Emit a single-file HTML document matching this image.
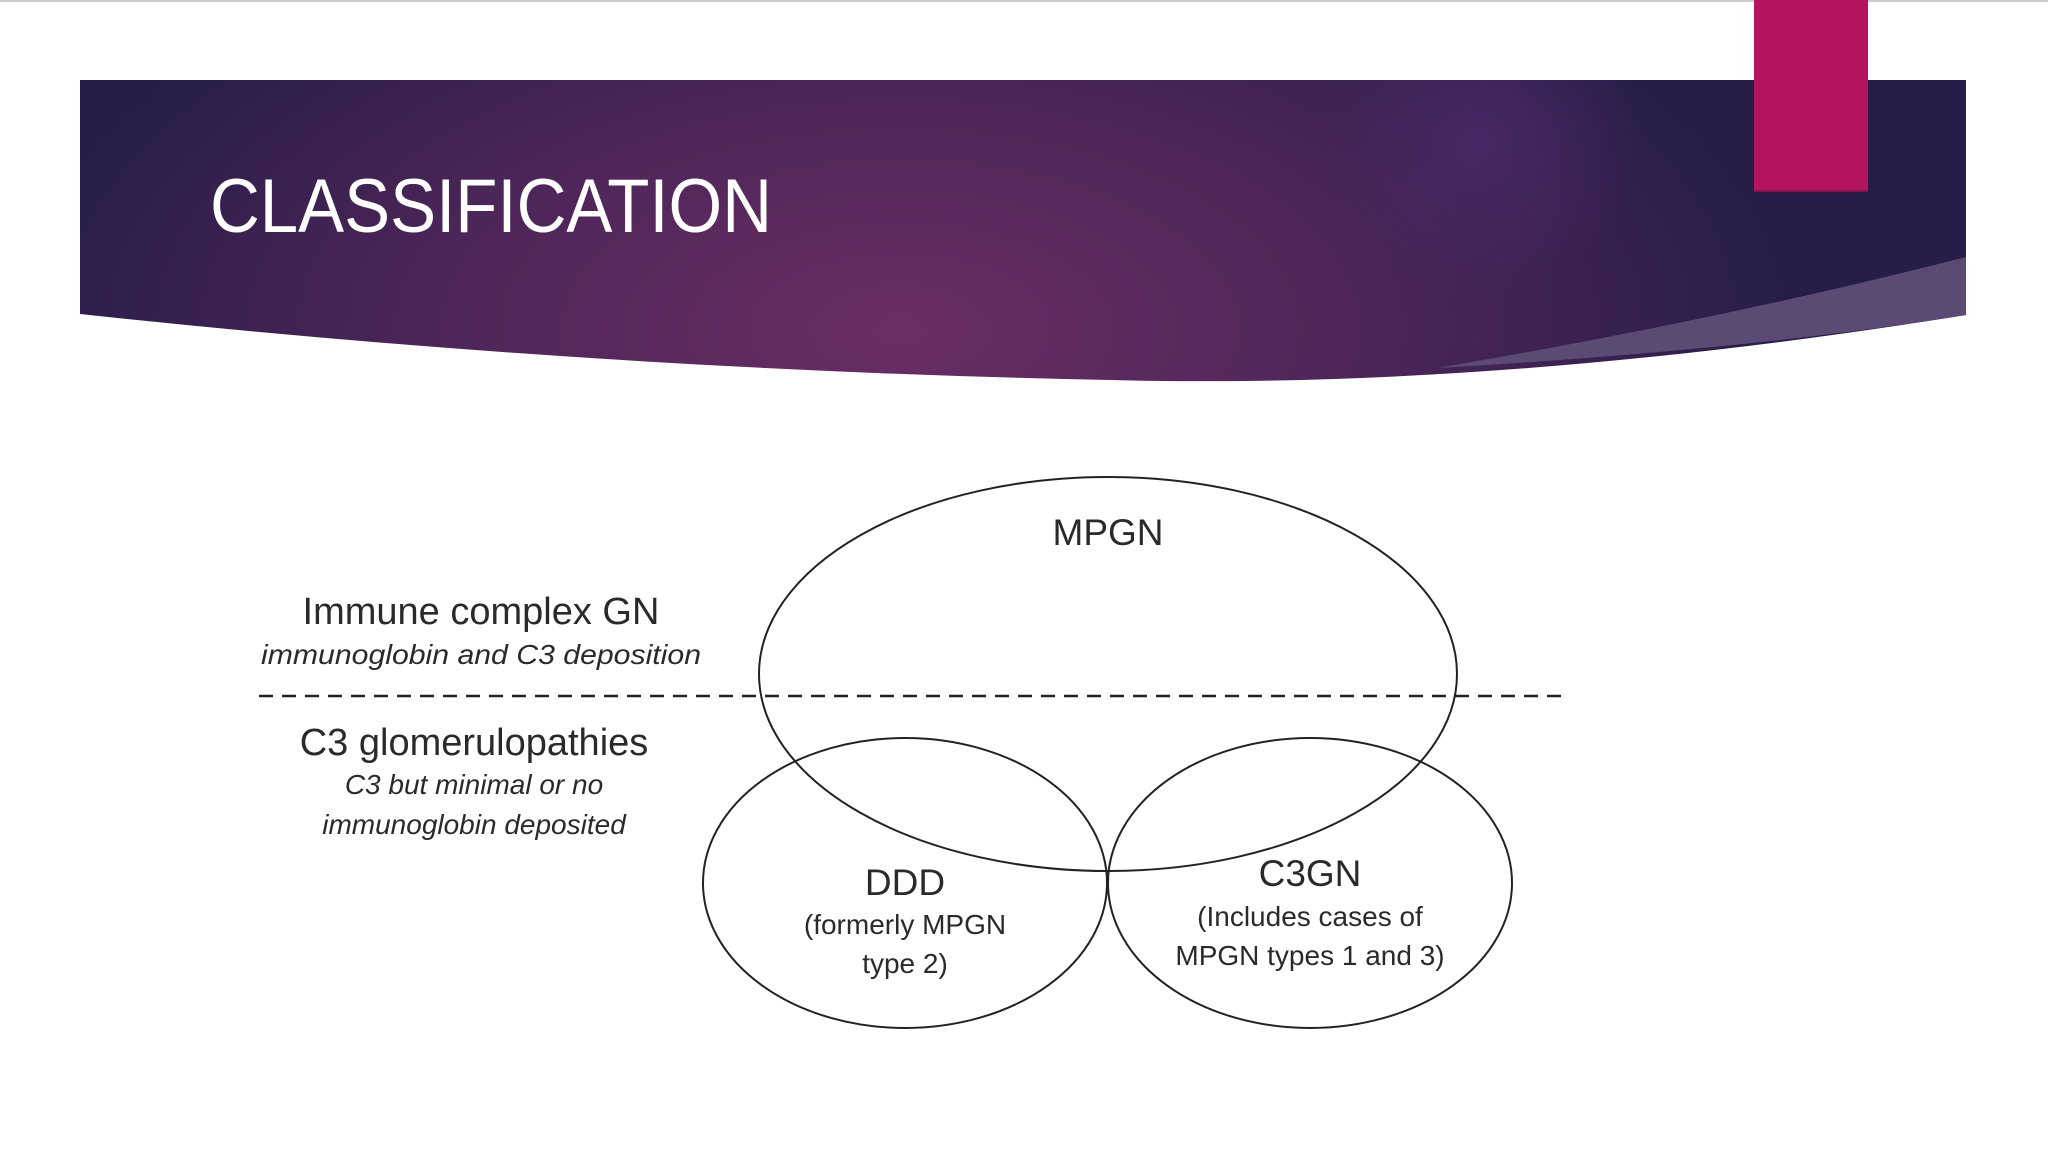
<!DOCTYPE html>
<html><head><meta charset="utf-8"><style>
html,body{margin:0;padding:0;background:#fff;}
svg{display:block;}
</style></head><body>
<svg width="2048" height="1152" viewBox="0 0 2048 1152" xmlns="http://www.w3.org/2000/svg">
<defs>
<radialGradient id="g1" cx="900" cy="330" r="900" gradientUnits="userSpaceOnUse" gradientTransform="translate(900 330) scale(1 0.5) translate(-900 -330)">
<stop offset="0" stop-color="#6b2d66"/>
<stop offset="0.5" stop-color="#4e2659"/>
<stop offset="1" stop-color="#271d48"/>
</radialGradient>
<radialGradient id="g2" cx="1480" cy="140" r="160" gradientUnits="userSpaceOnUse">
<stop offset="0" stop-color="#4a2a6a" stop-opacity="0.8"/>
<stop offset="1" stop-color="#4a2a6a" stop-opacity="0"/>
</radialGradient>
</defs>
<rect width="2048" height="1152" fill="#fff"/>
<line x1="0" y1="1" x2="2048" y2="1" stroke="#ccc" stroke-width="2"/>
<path d="M80 80 H1966 V315 Q1500 390 1110 380 Q600 370 80 314 Z" fill="url(#g1)"/>
<path d="M80 80 H1966 V315 Q1500 390 1110 380 Q600 370 80 314 Z" fill="url(#g2)"/>
<path d="M1966 257 Q1720 320 1437 368 Q1750 350 1966 315 Z" fill="#5a4a74"/>
<rect x="1754" y="0" width="114" height="192" fill="#b5145e"/>
<rect x="1754" y="190" width="114" height="4" fill="#3a1a3a" opacity="0.4"/>
<text x="210" y="232" font-family="Liberation Sans, sans-serif" font-size="76" fill="#fff" textLength="562" lengthAdjust="spacingAndGlyphs">CLASSIFICATION</text>
<g fill="none" stroke="#222" stroke-width="2">
<ellipse cx="1108" cy="674" rx="349" ry="197"/>
<ellipse cx="905" cy="883" rx="202" ry="145"/>
<ellipse cx="1310" cy="883" rx="202" ry="145"/>
<line x1="259" y1="696" x2="1561" y2="696" stroke-dasharray="14 9" stroke-width="2.5"/>
</g>
<g font-family="Liberation Sans, sans-serif" fill="#2a2a2a" text-anchor="middle">
<text x="481" y="624" font-size="38">Immune complex GN</text>
<text x="481" y="664" font-size="28" font-style="italic" textLength="440" lengthAdjust="spacingAndGlyphs">immunoglobin and C3 deposition</text>
<text x="474" y="755" font-size="38">C3 glomerulopathies</text>
<text x="474" y="794" font-size="28" font-style="italic">C3 but minimal or no</text>
<text x="474" y="834" font-size="28" font-style="italic">immunoglobin deposited</text>
<text x="1108" y="545" font-size="37">MPGN</text>
<text x="905" y="895" font-size="37">DDD</text>
<text x="905" y="934" font-size="28">(formerly MPGN</text>
<text x="905" y="973" font-size="28">type 2)</text>
<text x="1310" y="886" font-size="37">C3GN</text>
<text x="1310" y="926" font-size="28">(Includes cases of</text>
<text x="1310" y="965" font-size="28">MPGN types 1 and 3)</text>
</g>
</svg>
</body></html>
